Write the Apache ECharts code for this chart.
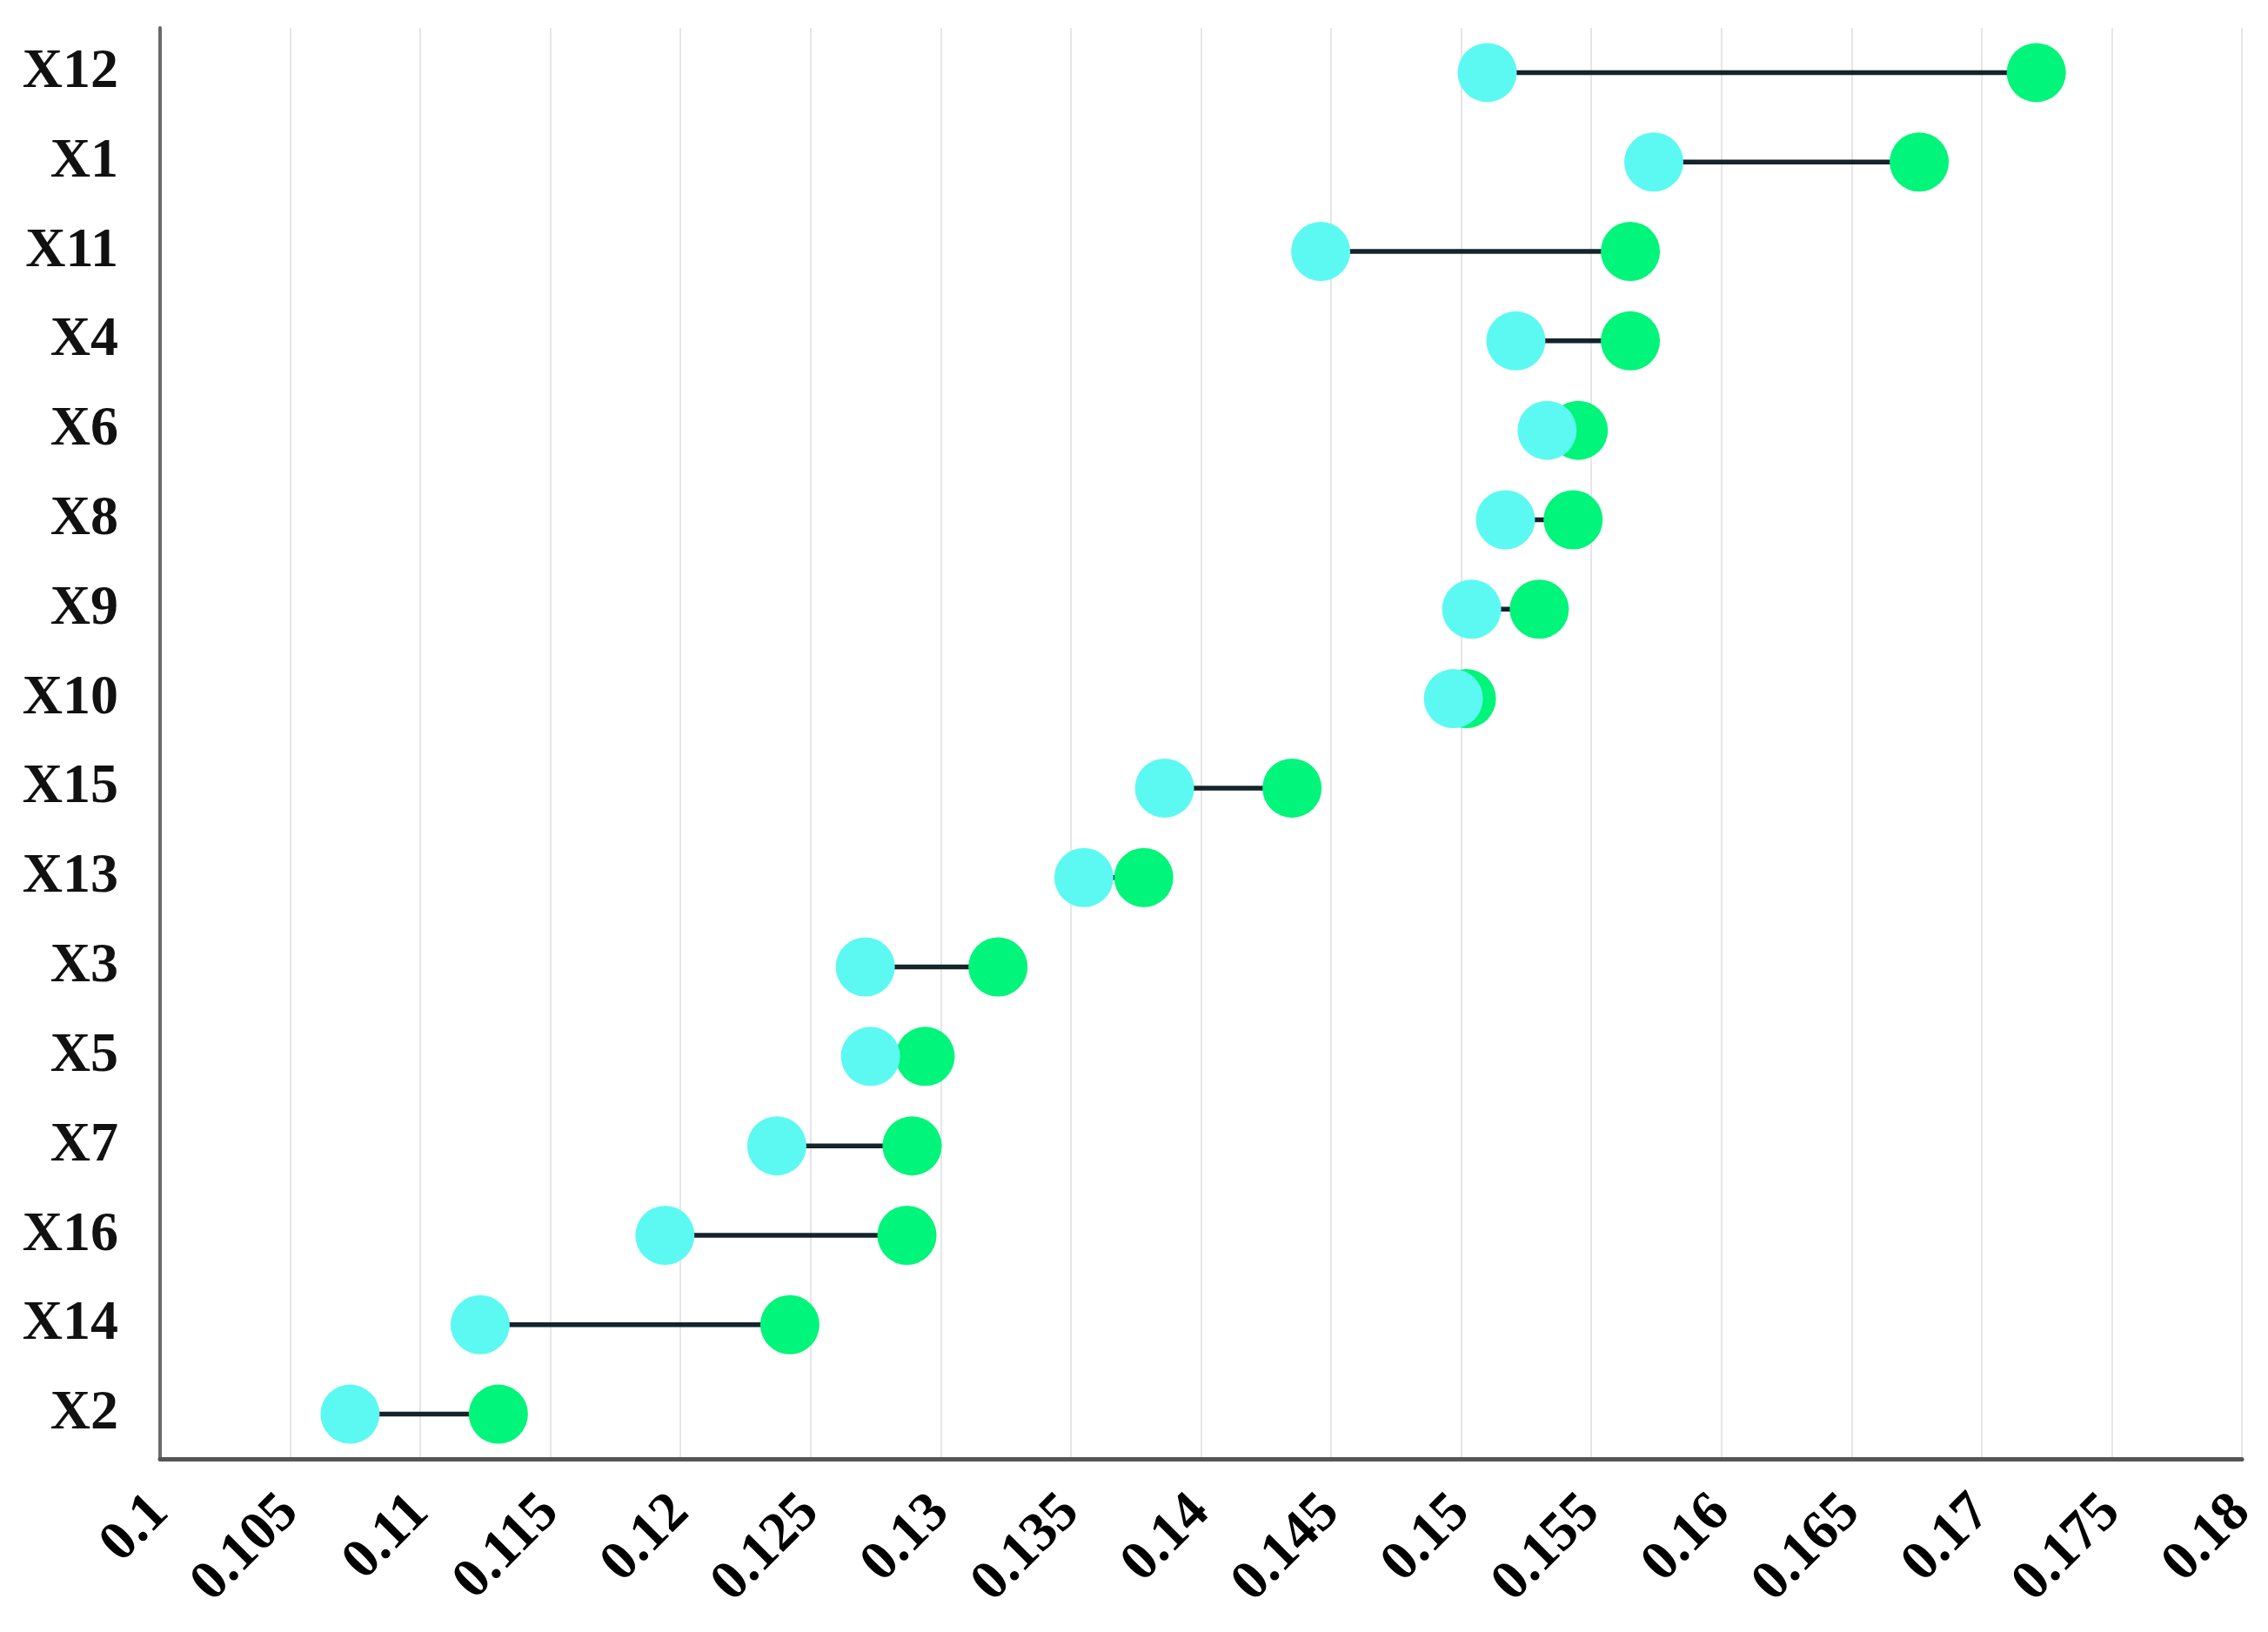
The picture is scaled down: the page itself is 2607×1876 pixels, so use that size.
<!DOCTYPE html>
<html>
<head>
<meta charset="utf-8">
<script src="https://cdn.jsdelivr.net/npm/echarts@6/dist/echarts.min.js"></script>
<style>
html,body{margin:0;padding:0;background:#fff;}
#chart{width:2607px;height:1876px;}
</style>
</head>
<body>
<div id="chart"></div>
<script>
const categories = ['X12','X1','X11','X4','X6','X8','X9','X10','X15','X13','X3','X5','X7','X16','X14','X2'];
const cyanValues  = [0.1510,0.1574,0.1446,0.1521,0.1533,0.1517,0.1504,0.1497,0.1386,0.1355,0.1271,0.1273,0.1237,0.1194,0.1123,0.1073];
const greenValues = [0.1721,0.1676,0.1565,0.1565,0.1545,0.1543,0.1530,0.1502,0.1435,0.1378,0.1322,0.1294,0.1289,0.1287,0.1242,0.1130];
const xMin = 0.1, xMax = 0.18, xStep = 0.005;

const chart = echarts.init(document.getElementById('chart'));
const serif = "'Liberation Serif','Times New Roman',serif";

chart.setOption({
  animation: false,
  backgroundColor: '#ffffff',
  grid: { left: 184, right: 30, top: 32, bottom: 199, containLabel: false },
  xAxis: {
    type: 'value',
    min: xMin, max: xMax, interval: xStep,
    axisLine: { show: true, lineStyle: { color: '#555555', width: 5 } },
    axisTick: { show: false },
    splitLine: { show: true, lineStyle: { color: '#e6e6e6', width: 2 } },
    axisLabel: {
      rotate: 45,
      margin: 52,
      color: '#000',
      fontFamily: serif,
      fontWeight: 'bold',
      fontSize: 64,
      formatter: v => String(Number(v.toFixed(3)))
    }
  },
  yAxis: {
    type: 'category',
    data: categories,
    inverse: true,
    axisLine: { show: true, lineStyle: { color: '#6a6a6a', width: 4 } },
    axisTick: { show: false },
    splitLine: { show: false },
    axisLabel: {
      margin: 48,
      color: '#111',
      fontFamily: serif,
      fontWeight: 'bold',
      fontSize: 64
    }
  },
  series: [
    {
      type: 'custom',
      z: 1,
      data: categories.map((c, i) => [cyanValues[i], greenValues[i], i]),
      encode: { x: [0, 1], y: 2 },
      renderItem: function (params, api) {
        const a = api.coord([api.value(0), api.value(2)]);
        const b = api.coord([api.value(1), api.value(2)]);
        return {
          type: 'line',
          shape: { x1: a[0], y1: a[1], x2: b[0], y2: b[1] },
          style: { stroke: '#15232b', lineWidth: 5.5 }
        };
      }
    },
    {
      type: 'scatter',
      z: 2,
      symbol: 'circle',
      symbolSize: 68,
      itemStyle: { color: '#00f57a', opacity: 1 },
      data: greenValues.map((v, i) => [v, i])
    },
    {
      type: 'scatter',
      z: 3,
      symbol: 'circle',
      symbolSize: 68,
      itemStyle: { color: '#5cf9f3', opacity: 1 },
      data: cyanValues.map((v, i) => [v, i])
    }
  ]
});
</script>
</body>
</html>
